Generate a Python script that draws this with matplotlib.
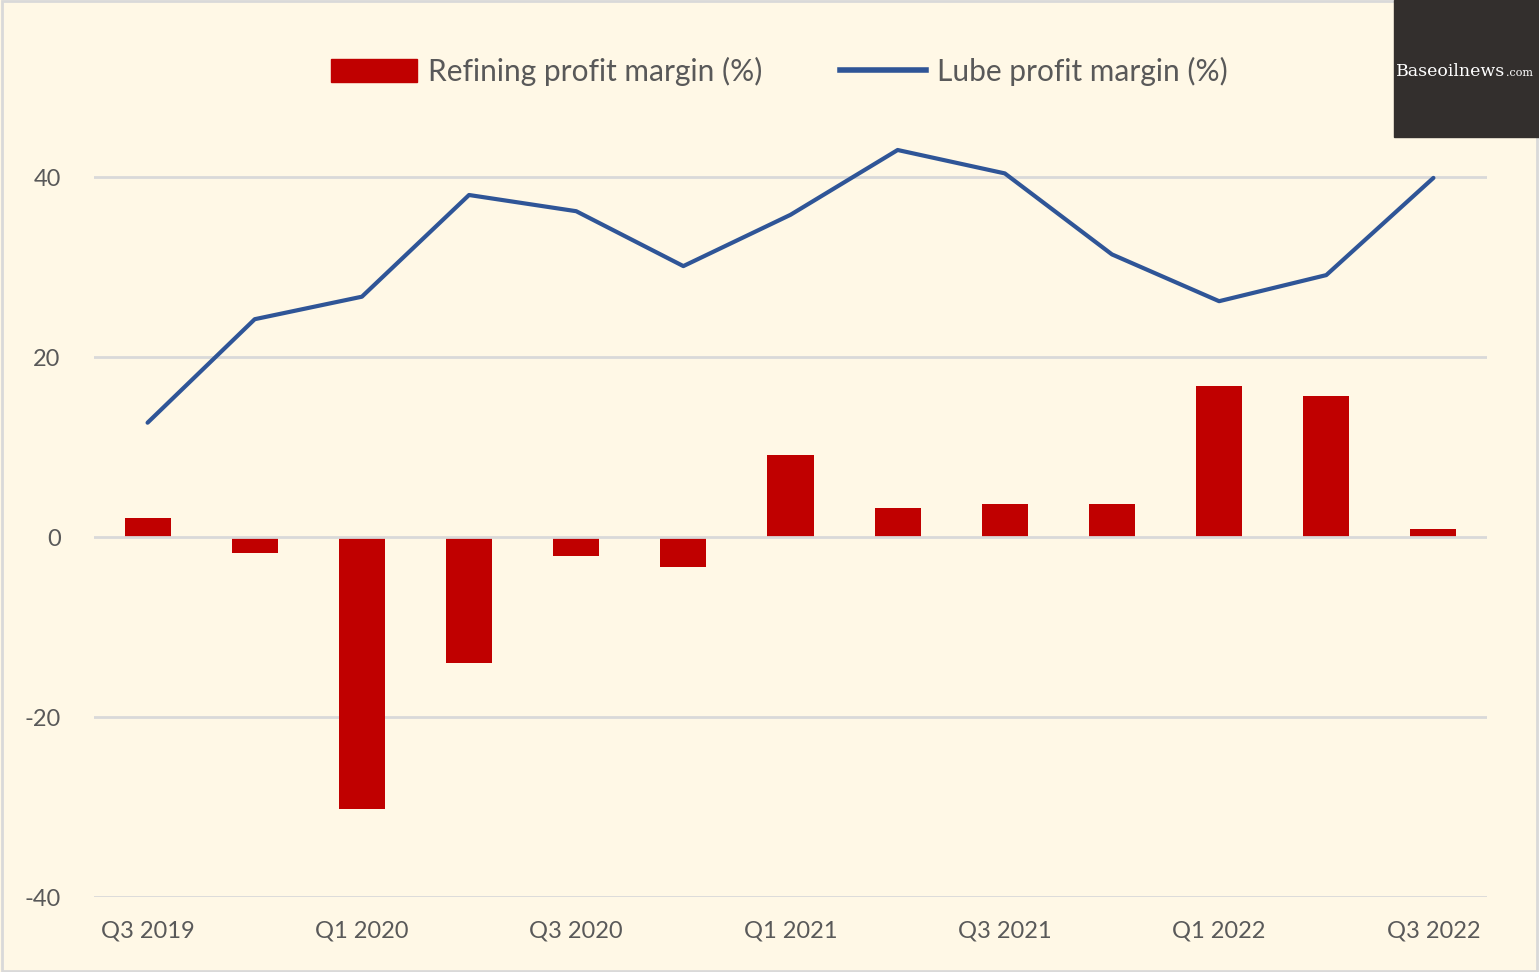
import matplotlib.pyplot as plt
import matplotlib.patches as mpatches
from matplotlib.lines import Line2D
import numpy as np

plt.rcParams['font.family'] = ['Lato', 'DejaVu Sans']

quarters = ["Q3 2019", "Q4 2019", "Q1 2020", "Q2 2020", "Q3 2020", "Q4 2020",
            "Q1 2021", "Q2 2021", "Q3 2021", "Q4 2021", "Q1 2022", "Q2 2022", "Q3 2022"]
refining_margin = [2.1, -1.8, -30.2, -14.0, -2.1, -3.3, 9.1, 3.2, 3.7, 3.7, 16.8, 15.7, 0.9]
lube_margin = [12.7, 24.2, 26.7, 38.0, 36.2, 30.1, 35.8, 43.0, 40.4, 31.4, 26.2, 29.1, 39.9]
y_ticks = [-40, -20, 0, 20, 40]

bg = '#FFF8E6'
txt = '#595959'
red = '#C00000'
blue = '#2F5597'

fig = plt.figure(figsize=(15.39, 9.72), dpi=100, facecolor=bg)
ax = fig.add_axes([94 / 1539, 1 - 897 / 972, (1487 - 94) / 1539, (897 - 87) / 972])
ax.set_facecolor(bg)

x = np.arange(len(quarters))
ax.bar(x, refining_margin, width=0.43, color=red, zorder=2)
ax.plot(x, lube_margin, color=blue, lw=3, solid_capstyle='round', solid_joinstyle='round', zorder=4)

ax.set_xlim(-0.5, len(quarters) - 0.5)
ax.set_ylim(-40, 50)
ax.set_yticks(y_ticks)
ax.set_yticklabels([str(v) for v in y_ticks])
for v in y_ticks:
    ax.axhline(v, color='#D9D9D9', lw=2, zorder=3 if v == 0 else 1)

ax.set_xticks(x[::2])
ax.set_xticklabels(quarters[::2])
ax.tick_params(axis='both', length=0, labelsize=17, colors=txt)
ax.tick_params(axis='x', pad=17)
ax.tick_params(axis='y', pad=24)
for s in ax.spines.values():
    s.set_visible(False)

handles = [mpatches.Patch(color=red, label='Refining profit margin (%)'),
           Line2D([], [], color=blue, lw=4, label='Lube profit margin (%)')]
leg = fig.legend(handles=handles, loc='center', bbox_to_anchor=(779 / 1539, 1 - 71 / 972),
                 ncol=2, frameon=False, fontsize=21.5, handlelength=2.9, handleheight=0.8,
                 columnspacing=2.6, handletextpad=0.35)
for t in leg.get_texts():
    t.set_color(txt)

# logo box
fig.patches.append(mpatches.Rectangle((1394 / 1539, 1 - 137 / 972), 145 / 1539, 137 / 972,
                                      transform=fig.transFigure, color='#332F2D', zorder=5))
name = fig.text(1396 / 1539, 1 - 71 / 972, 'Baseoilnews', color='white', fontsize=12.5,
                family='DejaVu Serif', va='center', ha='left', zorder=6)
fig.canvas.draw()
bb = name.get_window_extent()
fig.text((bb.x1 + 1) / 1539, 1 - 73 / 972, '.com', color='white', fontsize=8,
         family='DejaVu Serif', va='center', ha='left', zorder=6)

# outer border
fig.patches.append(mpatches.Rectangle((0.001, 0.001), 0.998, 0.998, transform=fig.transFigure,
                                      fill=False, edgecolor='#D9D9D9', lw=2, zorder=0))

fig.savefig('out.png', dpi=100, facecolor=bg)
